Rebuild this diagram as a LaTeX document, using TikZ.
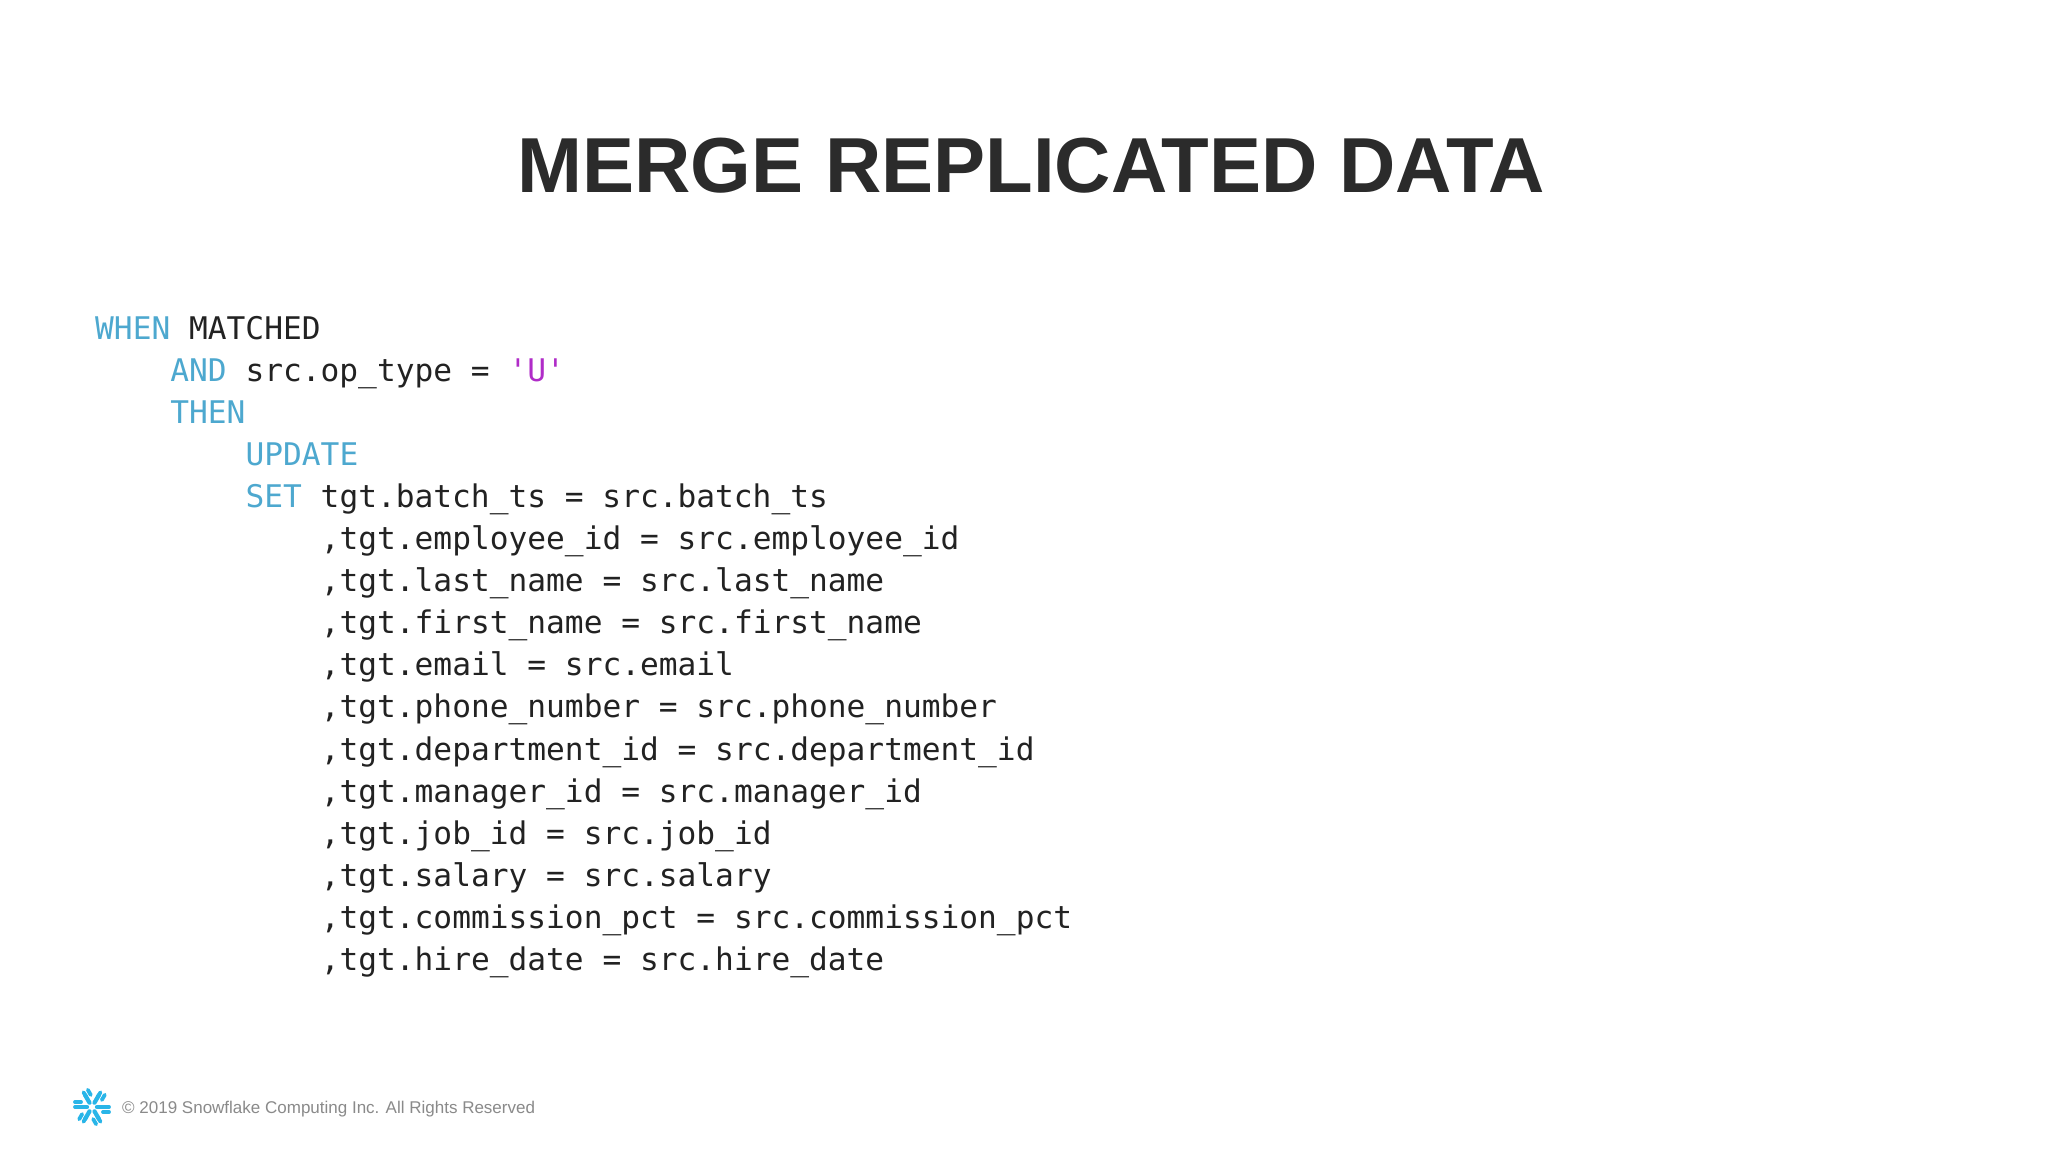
\documentclass[tikz,border=0pt]{standalone}
\usepackage{fontspec}
\setmainfont{Liberation Sans}
\newfontfamily\codefont{DejaVu Sans Mono}
\definecolor{kw}{HTML}{4DA8CF}
\definecolor{str}{HTML}{B02CC8}
\definecolor{txt}{HTML}{222222}
\definecolor{ttl}{HTML}{2B2B2B}
\definecolor{foot}{HTML}{8A8A8A}
\definecolor{snow}{HTML}{29B5E8}
\begin{document}
\begin{tikzpicture}[x=1pt,y=-1pt,
  code/.style={anchor=base west,inner sep=0pt,font=\codefont\fontsize{31.2}{36}\selectfont,text=txt}]
\useasboundingbox[fill=white] (0,0) rectangle (2048,1152);
\node[anchor=base,inner sep=0pt,font=\bfseries\fontsize{78}{86}\selectfont,text=ttl] (title) at (1031,192) {MERGE REPLICATED DATA};
\newcommand{\kwd}[1]{\textcolor{kw}{#1}}
\def\cx{95}
\def\cw{18.8}
\def\cy{339}
\def\dy{42.1}
\node[code] (l1) at (\cx,\cy) {\kwd{WHEN} MATCHED};
\node[code] (l2) at (\cx+4*\cw,\cy+\dy) {\kwd{AND} src.op\_type = \textcolor{str}{'U'}};
\node[code] (l3) at (\cx+4*\cw,\cy+2*\dy) {\kwd{THEN}};
\node[code] (l4) at (\cx+8*\cw,\cy+3*\dy) {\kwd{UPDATE}};
\node[code] (l5) at (\cx+8*\cw,\cy+4*\dy) {\kwd{SET} tgt.batch\_ts = src.batch\_ts};
\foreach \t [count=\i] in {employee\_id,last\_name,first\_name,email,phone\_number,department\_id,manager\_id,job\_id,salary,commission\_pct,hire\_date}
  \node[code] (f\i) at (\cx+12*\cw,\cy+4*\dy+\dy*\i) {,tgt.\t{} = src.\t};
\node[anchor=base west,inner sep=0pt,font=\fontsize{17}{20}\selectfont,text=foot] (foot) at (122,1113) {© 2019 Snowflake Computing Inc. All Rights Reserved};
\coordinate (logo) at (92,1107);
\foreach \a in {0,60,...,300}{
  \draw[snow,line width=4.2pt,line cap=round] (logo) ++(\a:5) -- ++(\a:9);
  \draw[snow,line width=3.8pt,line cap=round,line join=round] (logo) ++(\a:17)++(\a+90:5) -- ++(\a+180:6)++(\a+90:-5) -- ++(\a:6)++(\a-90:5);
}
\end{tikzpicture}
\end{document}
